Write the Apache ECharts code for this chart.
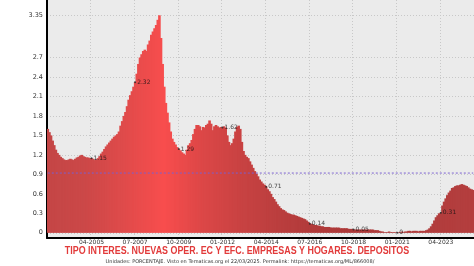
<!DOCTYPE html>
<html>
<head>
<meta charset="utf-8">
<script src="https://cdn.jsdelivr.net/npm/echarts@6/dist/echarts.min.js"></script>
<style>
html,body{margin:0;padding:0;background:#ffffff;}
#chart{width:474px;height:266px;}
</style>
</head>
<body>
<div id="chart"></div>
<script>
// Monthly series, 01-2003 .. 12-2024
var startYear = 2003;
var startMonth = 1;
var depositRate = [
  1.60,1.55,1.50,1.42,1.35,1.28,1.23,1.20,1.17,1.15,1.13,1.12,
  1.12,1.13,1.14,1.13,1.12,1.14,1.16,1.17,1.19,1.20,1.18,1.17,
  1.16,1.16,1.15,1.15,1.14,1.12,1.13,1.15,1.18,1.22,1.25,1.29,
  1.33,1.36,1.39,1.42,1.45,1.48,1.50,1.52,1.56,1.65,1.72,1.80,
  1.86,1.95,2.05,2.12,2.18,2.25,2.32,2.45,2.60,2.70,2.75,2.80,
  2.82,2.80,2.90,2.96,3.05,3.10,3.15,3.20,3.28,3.35,3.00,2.60,
  2.25,2.00,1.85,1.70,1.56,1.45,1.40,1.36,1.32,1.29,1.27,1.24,
  1.22,1.20,1.28,1.35,1.38,1.43,1.52,1.60,1.66,1.66,1.64,1.58,
  1.63,1.62,1.66,1.68,1.73,1.68,1.58,1.64,1.66,1.64,1.62,1.63,
  1.62,1.64,1.62,1.50,1.40,1.35,1.38,1.45,1.56,1.63,1.65,1.60,
  1.40,1.26,1.20,1.17,1.15,1.10,1.05,1.00,0.95,0.91,0.87,0.82,
  0.79,0.76,0.74,0.71,0.67,0.64,0.60,0.55,0.52,0.48,0.44,0.41,
  0.38,0.36,0.35,0.33,0.31,0.30,0.29,0.28,0.28,0.27,0.26,0.25,
  0.24,0.23,0.22,0.21,0.19,0.17,0.14,0.14,0.13,0.12,0.12,0.11,
  0.11,0.10,0.10,0.09,0.09,0.09,0.09,0.08,0.08,0.08,0.08,0.08,
  0.08,0.07,0.07,0.07,0.07,0.07,0.06,0.06,0.06,0.05,0.05,0.05,
  0.05,0.05,0.05,0.05,0.05,0.05,0.05,0.05,0.05,0.05,0.04,0.04,
  0.04,0.03,0.02,0.02,0.01,0.01,0.01,0.02,0.01,0.01,0.01,0.01,
  0.00,0.01,0.01,0.02,0.01,0.02,0.02,0.03,0.03,0.02,0.03,0.03,
  0.03,0.02,0.03,0.03,0.03,0.03,0.04,0.05,0.07,0.10,0.14,0.19,
  0.24,0.27,0.30,0.31,0.42,0.48,0.53,0.58,0.62,0.65,0.69,0.70,
  0.72,0.73,0.73,0.74,0.75,0.74,0.73,0.72,0.70,0.68,0.67,0.66
];
var yTickValues = [0, 0.3, 0.6, 0.9, 1.2, 1.5, 1.8, 2.1, 2.4, 2.7, 3.35];
var xTickLabels = ['04-2005','07-2007','10-2009','01-2012','04-2014','07-2016','10-2018','01-2021','04-2023'];
var averageLine = 0.92;
var titleText = 'TIPO INTERES. NUEVAS OPER. EC Y EFC. EMPRESAS Y HOGARES. DEPOSITOS';
var subText = 'Unidades: PORCENTAJE. Visto en Tematicas.org el 22/03/2025. Permalink: https://tematicas.org/ML/866008/';

var categories = [];
for (var k = 0; k < depositRate.length; k++) {
  var m = (startMonth - 1 + k) % 12 + 1;
  var y = startYear + Math.floor((startMonth - 1 + k) / 12);
  categories.push((m < 10 ? '0' : '') + m + '-' + y);
}
function isTick(idx) { return xTickLabels.indexOf(categories[idx]) >= 0; }
var labelPoints = depositRate.map(function (v, i) { return isTick(i) ? v : '-'; });
var averagePoints = depositRate.map(function () { return averageLine; });

var chart = echarts.init(document.getElementById('chart'), null, {renderer: 'canvas'});
chart.setOption({
  animation: false,
  backgroundColor: '#ffffff',
  graphic: [
    {
      type: 'text', x: 237, y: 251.5, scaleX: 0.89, z: 10,
      style: {text: titleText, textAlign: 'center', textVerticalAlign: 'middle',
              font: 'bold 10px "Liberation Sans", Arial, sans-serif', fill: '#e23a3a'}
    },
    {
      type: 'text', x: 240, y: 261.5, z: 10,
      style: {text: subText, textAlign: 'center', textVerticalAlign: 'middle',
              font: '5px "DejaVu Sans", sans-serif', fill: '#333333'}
    }
  ],
  grid: {left: 47, right: 0, top: 0, bottom: 28, show: true, backgroundColor: '#ebebeb', borderWidth: 0},
  visualMap: {
    show: false, type: 'continuous', seriesIndex: 0, dimension: 0, min: 0, max: 264,
    inRange: {color: ['#c44646','#cc4848','#e04b4b','#f84d4d','#dc4747','#c84242','#ba3e3e','#b03a3a','#ac3939','#ad3a3a','#b23d3d','#b43e3e']}
  },
  xAxis: {
    type: 'category',
    data: categories,
    boundaryGap: true,
    axisLine: {onZero: false, lineStyle: {color: '#000000', width: 2}},
    axisTick: {show: false},
    axisLabel: {interval: function (i) { return isTick(i); }, fontSize: 6, color: '#333333', margin: 1, fontFamily: '"DejaVu Sans", sans-serif'},
    splitLine: {show: true, interval: function (i) { return isTick(i); }, lineStyle: {color: '#c8c8c8', type: [1, 2], width: 1}}
  },
  yAxis: {
    type: 'value',
    min: -0.08,
    max: 3.585,
    axisLine: {show: true, lineStyle: {color: '#000000', width: 2}},
    axisTick: {show: false, customValues: yTickValues},
    axisLabel: {customValues: yTickValues, fontSize: 6.5, color: '#333333', margin: 4, fontFamily: '"DejaVu Sans", sans-serif'},
    splitLine: {show: true, lineStyle: {color: '#c8c8c8', type: [1, 2], width: 1}}
  },
  series: [
    {
      type: 'bar',
      data: depositRate,
      barWidth: 2.6,
      barGap: '-100%',
      z: 2
    },
    {
      type: 'line',
      data: averagePoints,
      showSymbol: false,
      symbol: 'none',
      silent: true,
      z: 8,
      lineStyle: {color: '#7a5fd0', type: [2, 2], width: 1}
    },
    {
      type: 'scatter',
      data: labelPoints,
      symbolSize: 2,
      itemStyle: {color: '#222222'},
      z: 10,
      label: {show: true, position: 'right', distance: 1, fontSize: 6, color: '#111111', fontFamily: '"DejaVu Sans", sans-serif'}
    }
  ]
});
</script>
</body>
</html>
